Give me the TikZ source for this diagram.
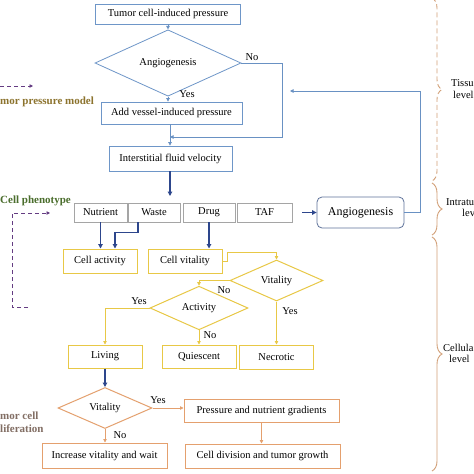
\documentclass[tikz,border=0pt]{standalone}
\usepackage{fontspec}
\setmainfont{Liberation Serif}
\usetikzlibrary{shapes.geometric,arrows.meta,decorations.pathreplacing}

\definecolor{boxblue}{RGB}{110,150,200}
\definecolor{lineblue}{RGB}{105,145,195}
\definecolor{darkblue}{RGB}{45,70,140}
\definecolor{boxgray}{RGB}{165,165,165}
\definecolor{angblue}{RGB}{95,115,155}
\definecolor{gold}{RGB}{232,200,70}
\definecolor{peach}{RGB}{228,160,110}
\definecolor{bracetan}{RGB}{210,160,120}
\definecolor{modpurple}{RGB}{100,60,130}
\definecolor{modolive}{RGB}{140,115,45}
\definecolor{modgreen}{RGB}{75,110,45}
\definecolor{modbrown}{RGB}{130,110,100}

\tikzset{
  bluebox/.style={draw=boxblue,line width=0.8pt,inner sep=1pt},
  bluedia/.style={draw=boxblue,line width=0.8pt,diamond,inner sep=0pt},
  bluearr/.style={draw=lineblue,line width=0.7pt,-{Triangle[length=3.5pt,width=3.5pt]}},
  darkarr/.style={draw=darkblue,line width=1.5pt,-{Triangle[length=4.5pt,width=4.5pt]}},
  graybox/.style={draw=boxgray,line width=0.7pt,inner sep=1pt,minimum height=19},
  angbox/.style={draw=angblue,line width=0.8pt,rounded corners=5pt,inner sep=1pt,font=\fontsize{12}{14}\selectfont},
  goldbox/.style={draw=gold,line width=1pt,inner sep=1pt},
  golddia/.style={draw=gold,line width=1pt,diamond,inner sep=0pt},
  goldarr/.style={draw=gold,line width=0.8pt,-{Triangle[length=3.5pt,width=3.5pt]}},
  peachbox/.style={draw=peach,line width=1pt,inner sep=1pt},
  peachdia/.style={draw=peach,line width=1pt,diamond,inner sep=0pt},
  peacharr/.style={draw=peach,line width=0.8pt,-{Triangle[length=3.5pt,width=3.5pt]}},
  modlink/.style={draw=modpurple,line width=0.9pt,dash pattern=on 4pt off 3pt},
  modlabel/.style={anchor=west,inner sep=0pt,font=\bfseries\fontsize{11}{13}\selectfont},
  levelbrace/.style={draw=bracetan,line width=0.9pt,decorate,decoration={brace,amplitude=10pt}},
  leveltext/.style={anchor=west,inner sep=0pt}
}

\begin{document}
\begin{tikzpicture}[x=1pt,y=-1pt,font=\fontsize{10.5}{12}\selectfont]
    \useasboundingbox[fill=white] (0,0) rectangle (474,474);
    %% tissue level: pressure
    \node[bluebox,minimum width=145,minimum height=20] (tcp) at (168,14) {Tumor cell-induced pressure};
    \node[bluedia,minimum width=146,minimum height=48] (ang) at (168,63) {Angiogenesis};
    \node[bluebox,minimum width=141,minimum height=22] (avp) at (171.5,113) {Add vessel-induced pressure};
    \node[bluebox,minimum width=123,minimum height=25] (ifv) at (170.5,158.5) {Interstitial fluid velocity};
    \node (yes1) at (187,94) {Yes};
    \node (no1) at (252,57) {No};
    \coordinate (join) at (170,137);
    \coordinate (fb) at (290,91);
    \coordinate (rowin) at (170,196);
    \draw[bluearr] (tcp.south) -- (ang.north);
    \draw[bluearr] (ang.south) -- (ang.south |- avp.north);
    \draw[bluearr] (ang.east) -| (282,137) -- (join);
    \draw[bluearr] (avp.south -| join) -- (ifv.north -| join);
    \draw[darkarr] (ifv.south -| join) -- (rowin);
    %% intratumoral level
    \foreach \n/\x/\w/\t in {nut/100.5/53/Nutrient, was/154/52/Waste, drug/209/52/Drug, taf/264.5/55/TAF}
        \node[graybox,minimum width=\w] (\n) at (\x,212.5) {\t};
    \node[angbox,minimum width=87,minimum height=31] (ang2) at (360.5,212.5) {Angiogenesis};
    \draw[darkarr,shorten <=10pt] (taf.east) -- (ang2.west);
    \draw[bluearr] (ang2.east) -- ++(16,0) |- (fb);
    %% cellular level: phenotype
    \node[goldbox,minimum width=74,minimum height=24] (cact) at (100,261) {Cell activity};
    \node[goldbox,minimum width=74,minimum height=24] (cvit) at (185,261) {Cell vitality};
    \node[golddia,minimum width=93,minimum height=39] (vit) at (276.5,280.5) {Vitality};
    \node[golddia,minimum width=98,minimum height=38] (act) at (199,308) {Activity};
    \node[goldbox,minimum width=74,minimum height=23] (liv) at (105,356.5) {Living};
    \node[goldbox,minimum width=74,minimum height=23] (qui) at (199,356.5) {Quiescent};
    \node[goldbox,minimum width=74,minimum height=24] (nec) at (276.5,357) {Necrotic};
    \node (no2) at (224,290) {No};
    \node (yes2) at (139,301) {Yes};
    \node (no3) at (210,335) {No};
    \node (yes3) at (290,311) {Yes};
    \draw[darkarr] (nut.south) -- (nut.south |- cact.north);
    \draw[darkarr] ([xshift=-16pt]was.south) |- ([xshift=15pt,yshift=16pt]cact.north) -- ([xshift=15pt]cact.north);
    \draw[darkarr] (drug.south) -- (drug.south |- cvit.north);
    \draw[goldarr] (cvit.east) -- ++(5,0) -- ++(0,-9) -| (vit.north);
    \draw[goldarr] (vit.west) -| (act.north);
    \draw[goldarr] (act.west) -| (liv.north);
    \draw[goldarr] (act.south) -- (qui.north);
    \draw[goldarr] (vit.south) -- (nec.north);
    %% cellular level: proliferation
    \node[peachdia,minimum width=94,minimum height=40] (vit2) at (105,408) {Vitality};
    \node[peachbox,minimum width=155,minimum height=23] (pres) at (261.5,410.5) {Pressure and nutrient gradients};
    \node[peachbox,minimum width=155,minimum height=24] (cdiv) at (262.5,456) {Cell division and tumor growth};
    \node[peachbox,minimum width=125,minimum height=25] (inc) at (104.5,455.5) {Increase vitality and wait};
    \node (yes4) at (158,400) {Yes};
    \node (no4) at (120,435) {No};
    \draw[darkarr] (liv.south) -- (vit2.north);
    \draw[peacharr] (vit2.east) -- (vit2.east -| pres.west);
    \draw[peacharr] (pres.south) -- (pres.south |- cdiv.north);
    \draw[peacharr] (vit2.south) -- (vit2.south |- inc.north);
    %% model links (left)
    \draw[modlink,-{Triangle[length=3.5pt,width=3.5pt]}] (0,86) -- (33,86);
    \node[modlabel,text=modolive] (mpm) at (0,102) {mor pressure model};
    \node[modlabel,text=modgreen] (cph) at (0,201) {Cell phenotype};
    \draw[modlink,-{Triangle[length=3.5pt,width=3.5pt]}] (28,307) -- (12,307) -- (12,213) -- (50,213);
    \node[modlabel,text=modbrown] (mcp1) at (0,416) {mor cell};
    \node[modlabel,text=modbrown] (mcp2) at (0,429) {liferation};
    %% levels (right)
    \draw[levelbrace,dash pattern=on 5pt off 3pt] (432,-2) -- (432,181);
    \draw[levelbrace] (432,183) -- (432,235);
    \draw[levelbrace] (432,237) -- (432,471);
    \node[leveltext] (tis1) at (451,83) {Tissu};
    \node[leveltext] (tis2) at (453,95) {level};
    \node[leveltext] (itl1) at (446,202) {Intratu};
    \node[leveltext] (itl2) at (462,213) {lev};
    \node[leveltext] (cel1) at (443,348) {Cellula};
    \node[leveltext] (cel2) at (449,359) {level};
\end{tikzpicture}
\end{document}
